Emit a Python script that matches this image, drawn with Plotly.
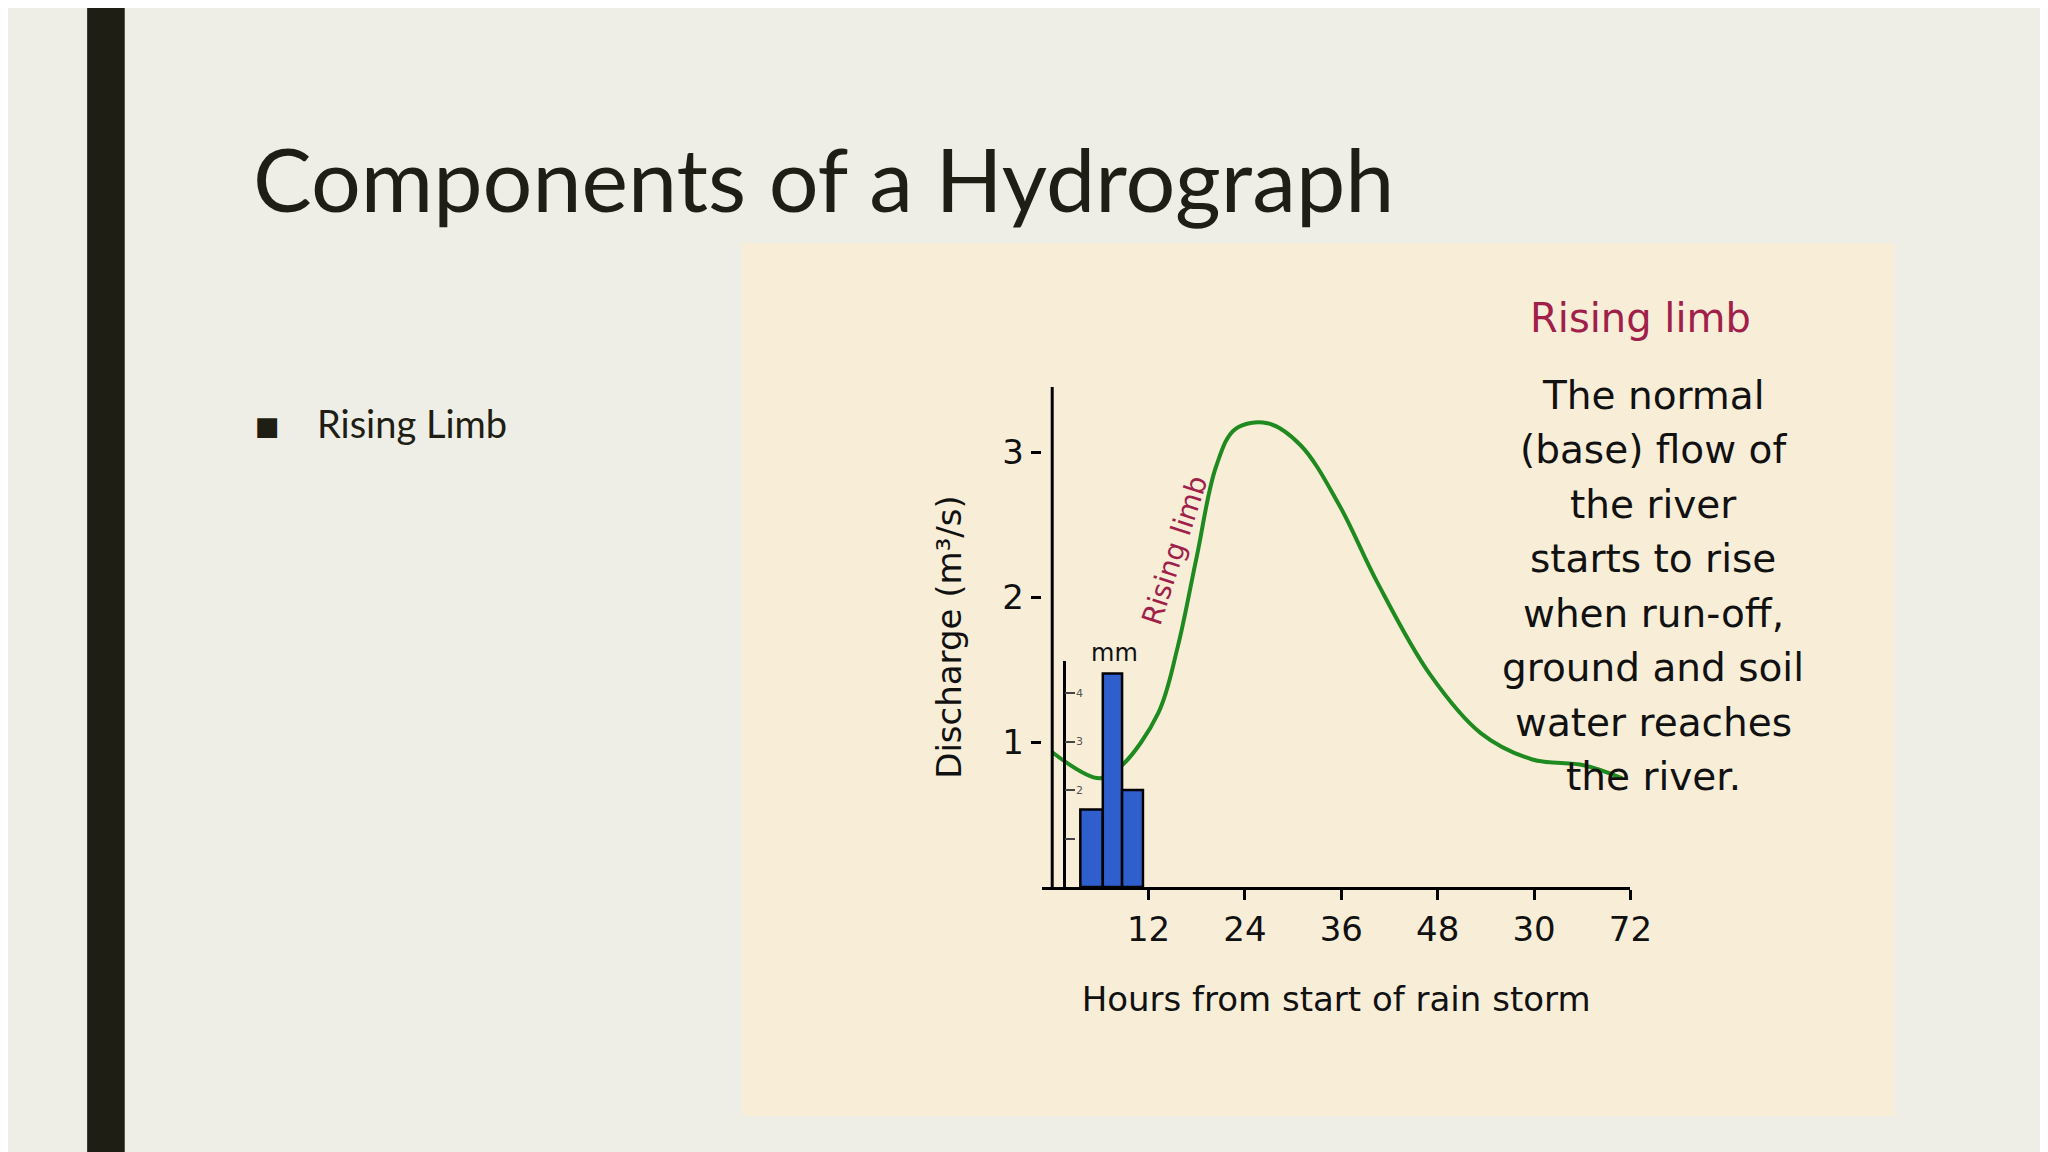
import plotly.graph_objects as go

hours = [0, 5.9, 8.7, 13.2, 15.6, 18, 20.4, 22.8, 26.8, 30.9, 35.7, 40.5, 47, 53.4, 59.8, 66.2, 71]
discharge = [0.93, 0.75, 0.84, 1.2, 1.65, 2.28, 2.9, 3.16, 3.2, 3.05, 2.64, 2.1, 1.47, 1.06, 0.88, 0.84, 0.75]
rain_x = [4.9, 7.5, 10.0]
rain_w = [2.8, 2.4, 2.6]
rain_mm = [1.6, 4.4, 2.0]
xtick_vals = [0, 12, 24, 36, 48, 60, 72]
xtick_text = ["0", "12", "24", "36", "48", "30", "72"]
body_lines = ["The normal", "(base) flow of", "the river", "starts to rise",
              "when run-off,", "ground and soil", "water reaches", "the river."]

W, H = 2048, 1152
def px(x): return x / W
def py(y): return 1 - y / H

F = "DejaVu Sans"
fig = go.Figure()
fig.add_trace(go.Bar(x=rain_x, y=rain_mm, width=rain_w, yaxis="y2",
                     marker=dict(color="#2f5fcc", line=dict(color="black", width=2.5))))
fig.add_trace(go.Scatter(x=hours, y=discharge, mode="lines", line=dict(color="#1f8a1f", width=4, shape="spline")))

fig.update_layout(
    width=W, height=H, margin=dict(l=0, r=0, t=0, b=0), showlegend=False,
    paper_bgcolor="#efeee6", plot_bgcolor="rgba(0,0,0,0)",
    xaxis=dict(domain=[px(1045), px(1640)], range=[-1.3, 72], tickvals=xtick_vals, ticktext=xtick_text,
               showline=True, linewidth=3, linecolor="black", ticks="outside", ticklen=10, tickwidth=3,
               tickcolor="black", showgrid=False, zeroline=False, tickfont=dict(family=F, size=34, color="#111"),
               title=dict(text="Hours from start of rain storm", font=dict(family=F, size=34, color="#111"), standoff=40)),
    yaxis=dict(domain=[py(879), py(379)], range=[0, 3.45], tickvals=[1, 2, 3], showline=False,
               ticks="outside", ticklen=10, tickwidth=3, tickcolor="black", showgrid=False,
               zeroline=False, tickfont=dict(family=F, size=34, color="#111"),
               title=dict(text="Discharge (m³/s)", font=dict(family=F, size=34, color="#111"), standoff=30)),
    yaxis2=dict(domain=[py(879), py(653)], range=[0, 4.66], anchor="free", position=px(1067),
                tickvals=[1, 2, 3, 4], ticktext=["", "2", "3", "4"], ticks="inside", ticklen=10, tickwidth=2,
                ticklabelposition="inside", tickfont=dict(family=F, size=11, color="#555"),
                showline=True, linewidth=2.5, linecolor="black", showgrid=False, zeroline=False),
    shapes=[
        dict(type="rect", xref="paper", yref="paper", x0=px(742), x1=px(1907), y0=py(1108), y1=py(235),
             fillcolor="#f8eed8", line=dict(width=0), layer="below"),
        dict(type="rect", xref="paper", yref="paper", x0=px(80), x1=px(118), y0=0, y1=1,
             fillcolor="#1e1e14", line=dict(width=0), layer="below"),
        dict(type="line", xref="x", yref="paper", x0=0, x1=0, y0=py(879), y1=py(379),
             line=dict(color="black", width=3)),
    ],
)

ann = [
    dict(text="Components of a Hydrograph", x=px(246), y=py(170), xanchor="left",
         font=dict(family="Lato", size=88, color="#1e1e14")),
    dict(text="■", x=px(248), y=py(418), xanchor="left", font=dict(family=F, size=26, color="#1e1e14")),
    dict(text="Rising Limb", x=px(310), y=py(415), xanchor="left", font=dict(family="Lato", size=38, color="#1e1e14")),
    dict(text="Rising limb", x=px(1650), y=py(310), font=dict(family=F, size=40, color="#a0204a")),
    dict(text="Rising limb", x=px(1179), y=py(542), textangle=-72, font=dict(family=F, size=28, color="#a0204a")),
    dict(text="mm", x=px(1119), y=py(645), font=dict(family=F, size=24, color="#111")),
]
for i, line in enumerate(body_lines):
    ann.append(dict(text=line, x=px(1663), y=py(387 + i * 54.5), font=dict(family=F, size=39, color="#111")))
for a in ann:
    a.setdefault("xanchor", "center")
    a.update(xref="paper", yref="paper", showarrow=False, yanchor="middle")
fig.update_layout(annotations=ann)

fig.write_html("out.html")
